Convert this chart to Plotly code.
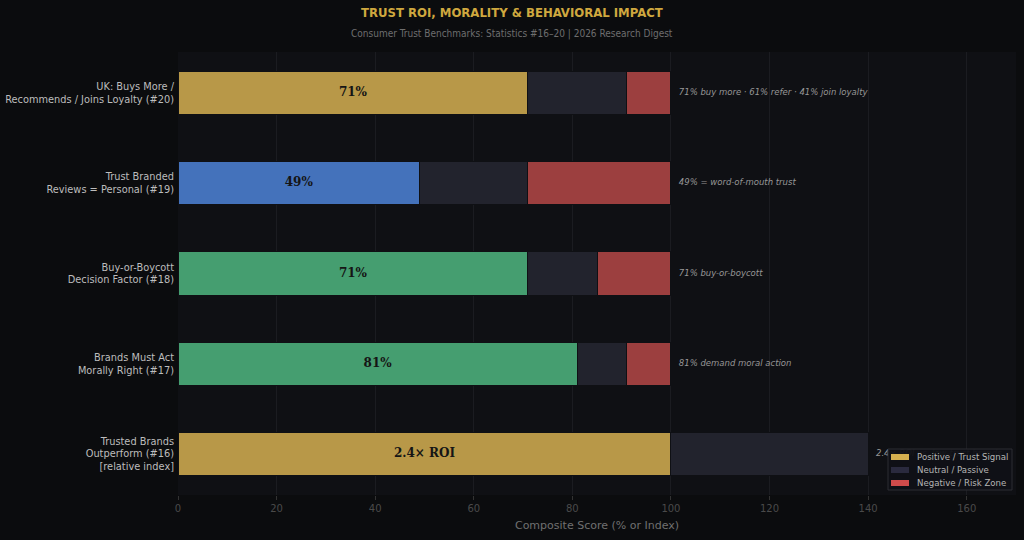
import plotly.graph_objects as go

categories = [
    "UK: Buys More /<br>Recommends / Joins Loyalty (#20)",
    "Trust Branded<br>Reviews = Personal (#19)",
    "Buy-or-Boycott<br>Decision Factor (#18)",
    "Brands Must Act<br>Morally Right (#17)",
    "Trusted Brands<br>Outperform (#16)<br>[relative index]",
]
positive = [71, 49, 71, 81, 100]
neutral = [20, 22, 14, 10, 40]
negative = [9, 29, 15, 9, 0]
positive_colors = ["#b89848", "#4472bb", "#459e70", "#459e70", "#b89848"]
bar_labels = ["71%", "49%", "71%", "81%", "2.4× ROI"]
side_notes = [
    "71% buy more · 61% refer · 41% join loyalty",
    "49% = word-of-mouth trust",
    "71% buy-or-boycott",
    "81% demand moral action",
    "2.4× ROI vs. low-trust brands",
]
legend_names = ["Positive / Trust Signal", "Neutral / Passive", "Negative / Risk Zone"]
legend_colors = ["#d4af4f", "#2a2a3e", "#d04b4b"]

W, H = 1024, 540
ML, MR, MT, MB = 178, 8, 52, 45
PW, PH = W - ML - MR, H - MT - MB


def px_x(px):
    return (px - ML) / PW


def px_y(py):
    return (H - MB - py) / PH


totals = [p + n + g for p, n, g in zip(positive, neutral, negative)]
note_x = [t + 1.6 for t in totals]
label_x = [p / 2 for p in positive]

fig = go.Figure()
line = dict(color="#0f1014", width=1)
fig.add_trace(go.Bar(y=categories, x=positive, orientation="h",
                     marker=dict(color=positive_colors, line=line), width=0.48,
                     showlegend=False, hoverinfo="x"))
fig.add_trace(go.Bar(y=categories, x=neutral, orientation="h",
                     marker=dict(color="#22232d", line=line), width=0.48,
                     showlegend=False, hoverinfo="x"))
fig.add_trace(go.Bar(y=categories, x=negative, orientation="h",
                     marker=dict(color="#9c3f3f", line=line), width=0.48,
                     showlegend=False, hoverinfo="x"))
fig.add_trace(go.Scatter(y=categories, x=label_x, mode="text",
                         text=["<b>" + t + "</b>" for t in bar_labels],
                         textposition="middle center", showlegend=False, hoverinfo="skip",
                         textfont=dict(family="DejaVu Serif", size=12, color="#151515")))
fig.add_trace(go.Scatter(y=categories, x=note_x, mode="text", text=side_notes,
                         textposition="middle right", showlegend=False, hoverinfo="skip",
                         cliponaxis=False,
                         textfont=dict(family="DejaVu Sans", size=8.5, color="#979797",
                                       style="italic")))

# compact legend box drawn with layout shapes
fig.add_shape(type="rect", xref="paper", yref="paper", layer="above",
              x0=px_x(888), x1=px_x(1012), y0=px_y(490), y1=px_y(449),
              fillcolor="rgba(16,17,22,0.95)", line=dict(color="#2c2d33", width=1))
for i, (name, col) in enumerate(zip(legend_names, legend_colors)):
    cy = 457 + 13 * i
    fig.add_shape(type="rect", xref="paper", yref="paper", layer="above",
                  x0=px_x(891), x1=px_x(909), y0=px_y(cy + 3), y1=px_y(cy - 3),
                  fillcolor=col, line=dict(width=0))
    fig.add_annotation(xref="paper", yref="paper", x=px_x(915), y=px_y(cy),
                       xanchor="left", yanchor="middle", text=name, showarrow=False,
                       font=dict(family="DejaVu Sans", size=8.6, color="#b5b5b5"))

fig.add_annotation(xref="paper", yref="paper", x=px_x(512), y=px_y(12), xanchor="center", yanchor="middle",
                   text="<b>TRUST ROI, MORALITY & BEHAVIORAL IMPACT</b>", showarrow=False,
                   font=dict(family="DejaVu Sans Condensed, DejaVu Sans", size=13, color="#cfa83f"))
fig.add_annotation(xref="paper", yref="paper", x=px_x(512), y=px_y(34), xanchor="center", yanchor="middle",
                   text="Consumer Trust Benchmarks: Statistics #16–20 | 2026 Research Digest",
                   showarrow=False,
                   font=dict(family="DejaVu Sans Condensed, DejaVu Sans", size=10, color="#6e6e6e"))

fig.update_layout(
    barmode="stack",
    width=W, height=H,
    margin=dict(l=ML, r=MR, t=MT, b=MB, autoexpand=False),
    paper_bgcolor="#0b0c0e",
    plot_bgcolor="#0f1014",
    font=dict(family="DejaVu Sans", color="#bdbdbd", size=10),
    showlegend=False,
    bargap=0.5,
)
fig.update_xaxes(range=[0, 170], tickvals=[0, 20, 40, 60, 80, 100, 120, 140, 160],
                 showgrid=True, gridcolor="#1b1c21", gridwidth=1, zeroline=False,
                 ticks="outside", ticklen=4, tickcolor="#333",
                 tickfont=dict(size=10, color="#4a4a4a"),
                 title=dict(text="Composite Score (% or Index)", font=dict(size=11, color="#707070"),
                            standoff=8),
                 showline=False, automargin=False)
fig.update_yaxes(categoryorder="array", categoryarray=categories,
                 range=[4.455, -0.455], showgrid=False, zeroline=False, automargin=False,
                 ticks="", tickfont=dict(size=9.8, color="#bdbdbd"), ticklabelstandoff=3)

fig.write_html("out.html")
